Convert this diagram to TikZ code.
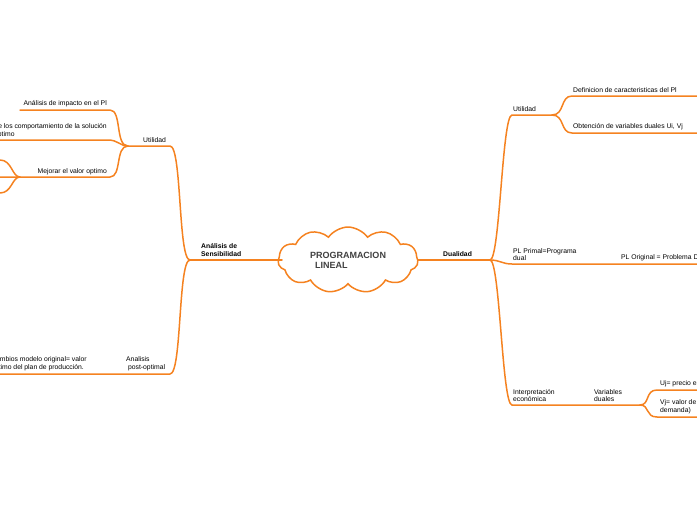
\documentclass[tikz,border=0pt]{standalone}
\usepackage{fontspec}
\setmainfont{Liberation Sans}
\usetikzlibrary{shapes.symbols}
\definecolor{org}{HTML}{F58220}
\begin{document}
\begin{tikzpicture}[x=1pt,y=-1pt,
 ln/.style={draw=org,line width=1.5pt,line cap=round},
 lab/.style={font=\fontsize{6.8}{7.6}\selectfont,anchor=south west,inner sep=1pt,align=left},
 labr/.style={lab,anchor=south east},
 bold/.style={lab,font=\fontsize{6.8}{7.8}\selectfont\bfseries}]
\useasboundingbox (0,0) rectangle (697,520);
\clip (0,0) rectangle (697,520);
\node[cloud,cloud puffs=11,cloud puff arc=110,aspect=2.3,draw=org,line width=1.5pt,fill=white,minimum width=140pt,minimum height=58pt,align=left,font=\fontsize{9}{10}\selectfont\bfseries,text=black!75] (c) at (348,260) {PROGRAMACION\\\ \ LINEAL};
% right
\draw[ln] (418,260) -- (490,260);
\node[bold] (d) at (442,258) {Dualidad};
\draw[ln] (490,260) .. controls (500,260) and (502,115) .. (512,115) -- (552,115);
\node[lab] (u) at (512,113) {Utilidad};
\draw[ln] (552,115) .. controls (565,115) and (560,96) .. (572,96) -- (697,96);
\node[lab] at (572,94) {Definicion de caracteristicas del Pl};
\draw[ln] (552,115) .. controls (565,115) and (560,133) .. (572,133) -- (697,133);
\node[lab] at (572,131) {Obtención de variables duales Ui, Vj};
\draw[ln] (490,260) .. controls (500,260) and (502,264) .. (512,264) -- (697,264);
\node[lab] at (512,262) {PL Primal=Programa\\dual};
\node[lab] at (620,262) {PL Original = Problema Dual};
\draw[ln] (490,260) .. controls (500,260) and (502,405) .. (512,405) -- (640,405);
\node[lab] at (512,403) {Interpretación\\económica};
\node[lab] at (593,403) {Variables\\duales};
\draw[ln] (640,405) .. controls (650,405) and (645,390) .. (657,390) -- (697,390);
\node[lab] at (659,388) {Uj= precio en el mercado};
\draw[ln] (640,405) .. controls (650,405) and (645,417) .. (657,417) -- (697,417);
\node[lab] at (659,415) {Vj= valor de\\demanda)};
% left
\draw[ln] (282,260) -- (190,260);
\node[bold,align=left] at (200,258) {Análisis de\\Sensibilidad};
\draw[ln] (190,260) .. controls (178,260) and (182,146) .. (170,146) -- (128,146);
\node[lab] at (142,144) {Utilidad};
\draw[ln] (128,146) .. controls (115,146) and (122,110) .. (110,110) -- (20,110);
\node[labr] at (108,108) {Análisis de impacto en el Pl};
\draw[ln] (128,146) .. controls (120,146) and (118,140) .. (108,140) -- (0,140);
\node[labr,align=left] at (108,139) {Análisis de los comportamiento de la solución\\mejorar optimo};
\draw[ln] (128,146) .. controls (115,146) and (122,177) .. (110,177) -- (0,177);
\node[labr] at (108,176) {Mejorar el valor optimo};
\draw[ln] (20,177) .. controls (12,177) and (12,160) .. (0,160);
\draw[ln] (20,177) .. controls (12,177) and (12,193) .. (0,193);
\draw[ln] (190,260) .. controls (178,260) and (182,374) .. (170,374) -- (0,374);
\node[lab] at (125,372) {Analisis\\\ post-optimal};
\node[lab] at (-10,372) {Cambios modelo original= valor\\optimo del plan de producción.};
\end{tikzpicture}
\end{document}
